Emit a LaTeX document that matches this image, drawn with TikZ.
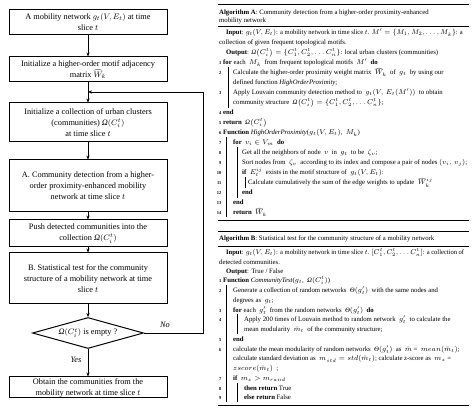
\documentclass[tikz,border=0pt]{standalone}
\usepackage{amsmath}
\usepackage{graphicx}
\usepackage[no-math]{fontspec}
\setmainfont{Liberation Serif}
\usetikzlibrary{arrows.meta,shapes.geometric}
\newcommand{\OmI}{\text{\normalfont\itshape Ω}}
\newcommand{\ThI}{\text{\normalfont\itshape Θ}}
\newcommand{\WH}{\widehat{W}}
\begin{document}
\begin{tikzpicture}[x=1pt,y=-1pt,
 fbox/.style={draw, line width=1pt, minimum width=158pt, align=center, inner sep=0pt, font=\fontsize{8.3}{11}\selectfont},
 arr/.style={line width=0.7pt, -{Stealth[length=4pt,width=3.2pt]}},
 alg/.style={anchor=base west, inner sep=0pt, text height=5pt, text depth=1.5pt, font=\fontsize{6.75}{7}\selectfont},
 num/.style={anchor=base east, inner sep=0pt, text height=3pt, text depth=0pt, font=\fontsize{4.5}{5}\selectfont\bfseries},
 lbl/.style={inner sep=0pt, font=\fontsize{8.3}{10}\selectfont\itshape},
 rulethick/.style={line width=1pt},
 rulethin/.style={line width=0.5pt},
 vbar/.style={line width=0.5pt}]
\useasboundingbox (0,0) rectangle (474,411);

% ---------- flowchart ----------
\node[fbox, minimum height=25pt] (b1) at (88,22.5) {A mobility network $g_t(V,E_t)$ at time\\ slice $t$};
\node[fbox, minimum height=25pt] (b2) at (88,69.5) {Initialize a higher-order motif adjacency\\ matrix $\WH_k$};
\node[fbox, minimum height=39pt] (b3) at (88,122.5) {Initialize a collection of urban clusters\\ (communities) $\OmI(C_i^t)$\\ at time slice $t$};
\node[fbox, minimum height=52pt] (bA) at (88,186) {A. Community detection from a higher-\\ order proximity-enhanced mobility\\ network at time slice $t$};
\node[fbox, minimum height=27pt] (bP) at (88,233.5) {Push detected communities into the\\ collection $\OmI(C_i^t)$};
\node[fbox, minimum height=51pt] (bB) at (88,278.5) {B. Statistical test for the community\\ structure of a mobility network at time\\ slice $t$};
\node[draw, diamond, aspect=3.6, inner sep=0pt, minimum width=111pt, minimum height=31pt, line width=1pt, font=\fontsize{8.3}{10}\selectfont] (dia) at (88,333) {$\OmI(C_i^t)$ is empty ?};
\node[fbox, minimum height=21pt] (bF) at (88,387.5) {Obtain the communities from the\\ mobility network at time slice $t$};
\node[lbl] (yes) at (76,360) {Yes};
\node[lbl] (no) at (165,325) {No};
\coordinate (fbr) at (203,92);
\coordinate (fbk) at (88,92);

\draw[arr] (b1.south) -- (b2.north);
\draw[arr] (b2.south) -- (b3.north);
\draw[arr] (b3.south) -- (bA.north);
\draw[arr] (bA.south) -- (bP.north);
\draw[arr] (bP.south) -- (bB.north);
\draw[arr] (bB.south) -- (dia.north);
\draw[arr] (dia.south) -- (bF.north);
\draw[arr] (dia.east) -| (fbr) -- (fbk);

% ---------- Algorithm A ----------
\draw[rulethick] (218,5) -- (469,5);
\node[alg] (aT) at (219,15) {\textbf{Algorithm A}: Community detection from a higher-order proximity-enhanced};
\node[alg] (aT2) at (219,23) {mobility network};
\draw[rulethin] (218,26.5) -- (469,26.5);
\node[alg] (aIn) at (226,35) {\scalebox{0.965}[1]{\textbf{Input}: $g_t(V,E_t)$: a mobility network in time slice $t$. $M' = \{M_1, M_2,\ldots, M_k\}$: a}};
\node[alg] (aIn2) at (219,45) {collection of given frequent topological motifs.};
\node[alg] (aOut) at (226,55) {\textbf{Output}: $\OmI\big(C_i^t\big) = \{C_1^t, C_2^t, \ldots C_n^t\}$: local urban clusters (communities)};
\node[num] (an1) at (221.5,65) {1};
\node[alg] (a1) at (223,65) {\textbf{for} each \ $M_k$ \ from frequent topological motifs \ $M'$ \ \textbf{do}};
\node[num] (an2) at (221.5,75) {2};
\node[alg] (a2) at (233,75) {Calculate the higher-order proximity weight matrix \ $\WH_k$ \ of \ $g_t$ \ by using our};
\node[alg] (a2b) at (233,85) {defined function \textit{HighOrderProximity};};
\node[num] (an3) at (221.5,95) {3};
\node[alg] (a3) at (233,95) {Apply Louvain community detection method to \ $g_t(V,\,E_t(M'))$ \ to obtain};
\node[alg] (a3b) at (233,105) {community structure \ $\OmI\big(C_i^t\big) = \{C_1^t, C_2^t, \ldots C_n^t\}$;};
\node[num] (an4) at (221.5,115) {4};
\node[alg] (a4) at (223,115) {\textbf{end}};
\node[num] (an5) at (221.5,125) {5};
\node[alg] (a5) at (223,125) {\textbf{return} \ $\OmI\big(C_i^t\big)$};
\node[num] (an6) at (221.5,135) {6};
\node[alg] (a6) at (223,135) {\textbf{Function} \textit{HighOrderProximity}($g_t(V,E_t)$, \ $M_k$)};
\node[num] (an7) at (221.5,145) {7};
\node[alg] (a7) at (233,145) {\textbf{for} \ $v_i \in V_m$ \ \textbf{do}};
\node[num] (an8) at (221.5,155) {8};
\node[alg] (a8) at (242,155) {Get all the neighbors of node \ $v$ \ in \ $g_t$ \ to be \ $\zeta_v$;};
\node[num] (an9) at (221.5,165) {9};
\node[alg] (a9) at (242,165) {Sort nodes from \ $\zeta_v$ \ according to its index and compose a pair of nodes $(v_i,\, v_j)$;};
\node[num] (an10) at (221.5,175) {10};
\node[alg] (a10) at (242,175) {\textbf{if} \ $E_t^{ij}$ \ exists in the motif structure of \ $g_t(V,E_t)$:};
\node[num] (an11) at (221.5,185) {11};
\node[alg] (a11) at (248,185) {Calculate cumulatively the sum of the edge weights to update \ $\WH_k^{ij}$};
\node[num] (an12) at (221.5,195) {12};
\node[alg] (a12) at (242,195) {\textbf{end}};
\node[num] (an13) at (221.5,205) {13};
\node[alg] (a13) at (233,205) {\textbf{end}};
\node[num] (an14) at (221.5,215) {14};
\node[alg] (a14) at (233,215) {\textbf{return} \ $\WH_k$};
\draw[rulethick] (218,221) -- (469,221);
\draw[vbar] (228,67.5) -- (228,108);
\draw[vbar] (226.5,137.5) -- (226.5,217.5);
\draw[vbar] (237,147.5) -- (237,198);
\draw[vbar] (245,177.5) -- (245,188);

% ---------- Algorithm B ----------
\draw[rulethick] (218,232) -- (469,232);
\node[alg] (bT) at (219,241) {\textbf{Algorithm B}: Statistical test for the community structure of a mobility network};
\draw[rulethin] (218,246) -- (469,246);
\node[alg] (bIn) at (226,255) {\scalebox{0.965}[1]{\textbf{Input}: $g_t(V,E_t)$: a mobility network in time slice $t$. $[C_1^t, C_2^t,\ldots C_n^t]$: a collection of}};
\node[alg] (bIn2) at (219,265) {detected communities.};
\node[alg] (bOut) at (226,274) {\textbf{Output}: True / False};
\node[num] (bn1) at (221.5,283) {1};
\node[alg] (b1l) at (223,283) {\textbf{Function} \textit{CommunityTest}($g_t$, \ $\OmI(C_i^t)$)};
\node[num] (bn2) at (221.5,292.75) {2};
\node[alg] (b2l) at (233,292.75) {Generate a collection of random networks \ $\ThI(g'_t)$ \ with the same nodes and};
\node[alg] (b2b) at (233,302.5) {degrees as \ $g_t$;};
\node[num] (bn3) at (221.5,312.25) {3};
\node[alg] (b3l) at (233,312.25) {\textbf{for} each \ $g'_t$ \ from the random networks \ $\ThI(g'_t)$ \ \textbf{do}};
\node[num] (bn4) at (221.5,322) {4};
\node[alg] (b4l) at (244,322) {Apply 200 times of Louvain method to random network \ $g'_t$ \ to calculate the};
\node[alg] (b4b) at (244,331.75) {mean modularity \ $\bar{m}_t$ \ of the community structure;};
\node[num] (bn5) at (221.5,341.5) {5};
\node[alg] (b5l) at (233,341.5) {\textbf{end}};
\node[num] (bn6) at (221.5,351.25) {6};
\node[alg] (b6l) at (233,351.25) {calculate the mean modularity of random networks \ $\ThI(g'_t)$ \ as \ $\bar{m}$ = \ $mean(\bar{m}_t)$;};
\node[alg] (b6b) at (233,361) {calculate standard deviation as \ $m_{std} = std(\bar{m}_t)$; calculate z-score as \ $m_z$ =};
\node[alg] (b6c) at (233,370.75) {$zscore(\bar{m}_t)$ \ ;};
\node[num] (bn7) at (221.5,380.5) {7};
\node[alg] (b7l) at (233,380.5) {\textbf{if} \ $m_z > m_{rand}$};
\node[num] (bn8) at (221.5,390.25) {8};
\node[alg] (b8l) at (244,390.25) {\textbf{then return} True};
\node[num] (bn9) at (221.5,400) {9};
\node[alg] (b9l) at (244,400) {\textbf{else return} False};
\draw[rulethick] (218,406) -- (469,406);
\draw[vbar] (226.5,285.5) -- (226.5,402);
\draw[vbar] (237,314.5) -- (237,334);
\draw[vbar] (237,383) -- (237,402);
\end{tikzpicture}
\end{document}
